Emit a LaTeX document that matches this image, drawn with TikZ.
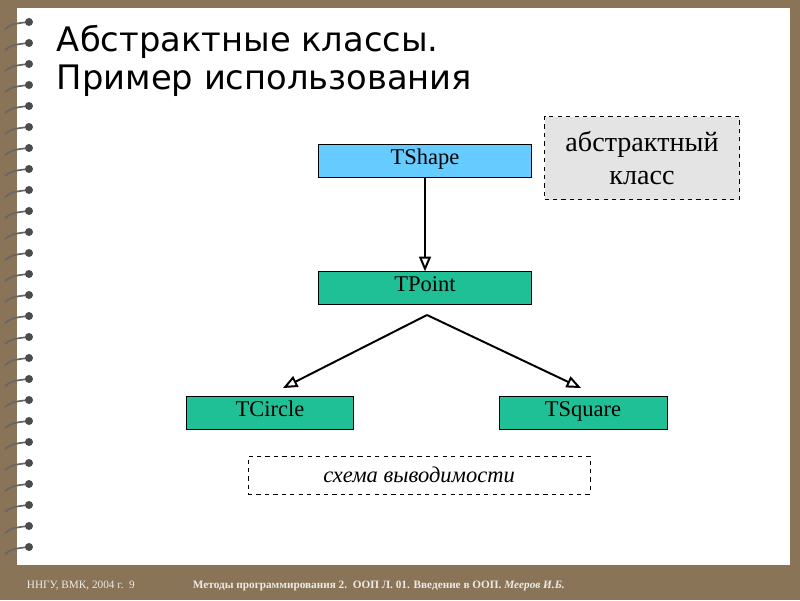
\documentclass[tikz,border=0pt]{standalone}
\usepackage{fontspec}
\setmainfont{Liberation Serif}
\newfontfamily\titlefont{DejaVu Sans}
\usetikzlibrary{arrows,positioning}

\definecolor{paperbrown}{RGB}{138,116,88}
\definecolor{shapeblue}{RGB}{102,204,255}
\definecolor{pointgreen}{RGB}{32,192,150}
\definecolor{notegrey}{RGB}{228,228,228}

\begin{document}
\begin{tikzpicture}[x=0.025cm, y=-0.025cm, >=open triangle 45,
    cls/.style={draw, minimum width=213*0.025cm, minimum height=33*0.025cm, inner sep=0pt,
        text height=1.5ex, text depth=0.3ex, font=\fontsize{16}{18}\selectfont},
    note/.style={draw, dashed, inner sep=0pt},
    link/.style={->, line width=1.4pt}]
    % Background and sheet
    \fill [paperbrown] (0,0) rectangle (800,600);
    \fill [white] (17,8) rectangle (790,565);
    \foreach \y in {22,43,...,560} {
        \draw [black!60, line width=1.2pt] (5,\y+7) .. controls (12,\y+2) .. (28,\y);
        \fill [black!70] (29,\y) circle (4);
    }
    \useasboundingbox (0,0) rectangle (800,600);

    % Title
    \node [anchor=north west, align=left, font=\titlefont\fontsize{24}{27}\selectfont] (title) at (52,20)
        {Абстрактные классы.\\Пример использования};

    % Classes
    \node [cls, fill=shapeblue] (tshape) at (425,161) {TShape};
    \node [cls, fill=pointgreen] (tpoint) at (425,288) {TPoint};
    \node [cls, fill=pointgreen, minimum width=167*0.025cm] (tcircle) at (270,413) {TCircle};
    \node [cls, fill=pointgreen, minimum width=168*0.025cm] (tsquare) at (583,413) {TSquare};
    \coordinate (fork) at (427,315);

    % Notes
    \node [note, fill=notegrey, minimum width=195*0.025cm, minimum height=83*0.025cm, align=center,
        font=\fontsize{20}{24}\selectfont] (abstract) at (642,158) {абстрактный\\класс};
    \node [note, minimum width=342*0.025cm, minimum height=38*0.025cm,
        font=\itshape\fontsize{16}{18}\selectfont] (scheme) at (419,475) {схема выводимости};

    % Paths
    \draw [link] (tshape) -- (tpoint);
    \draw [link] (fork) -- (283,388);
    \draw [link] (fork) -- (581,388);

    % Footer
    \node [anchor=west, text=white!85!paperbrown, font=\fontsize{8}{9}\selectfont] (place) at (22,586) {ННГУ, ВМК, 2004 г.\ \ 9};
    \node [anchor=west, text=white!85!paperbrown, font=\bfseries\fontsize{8}{9}\selectfont] (course) at (188,586)
        {Методы программирования 2.\ \ ООП Л. 01. Введение в ООП. \textit{Мееров И.Б.}};
\end{tikzpicture}
\end{document}
